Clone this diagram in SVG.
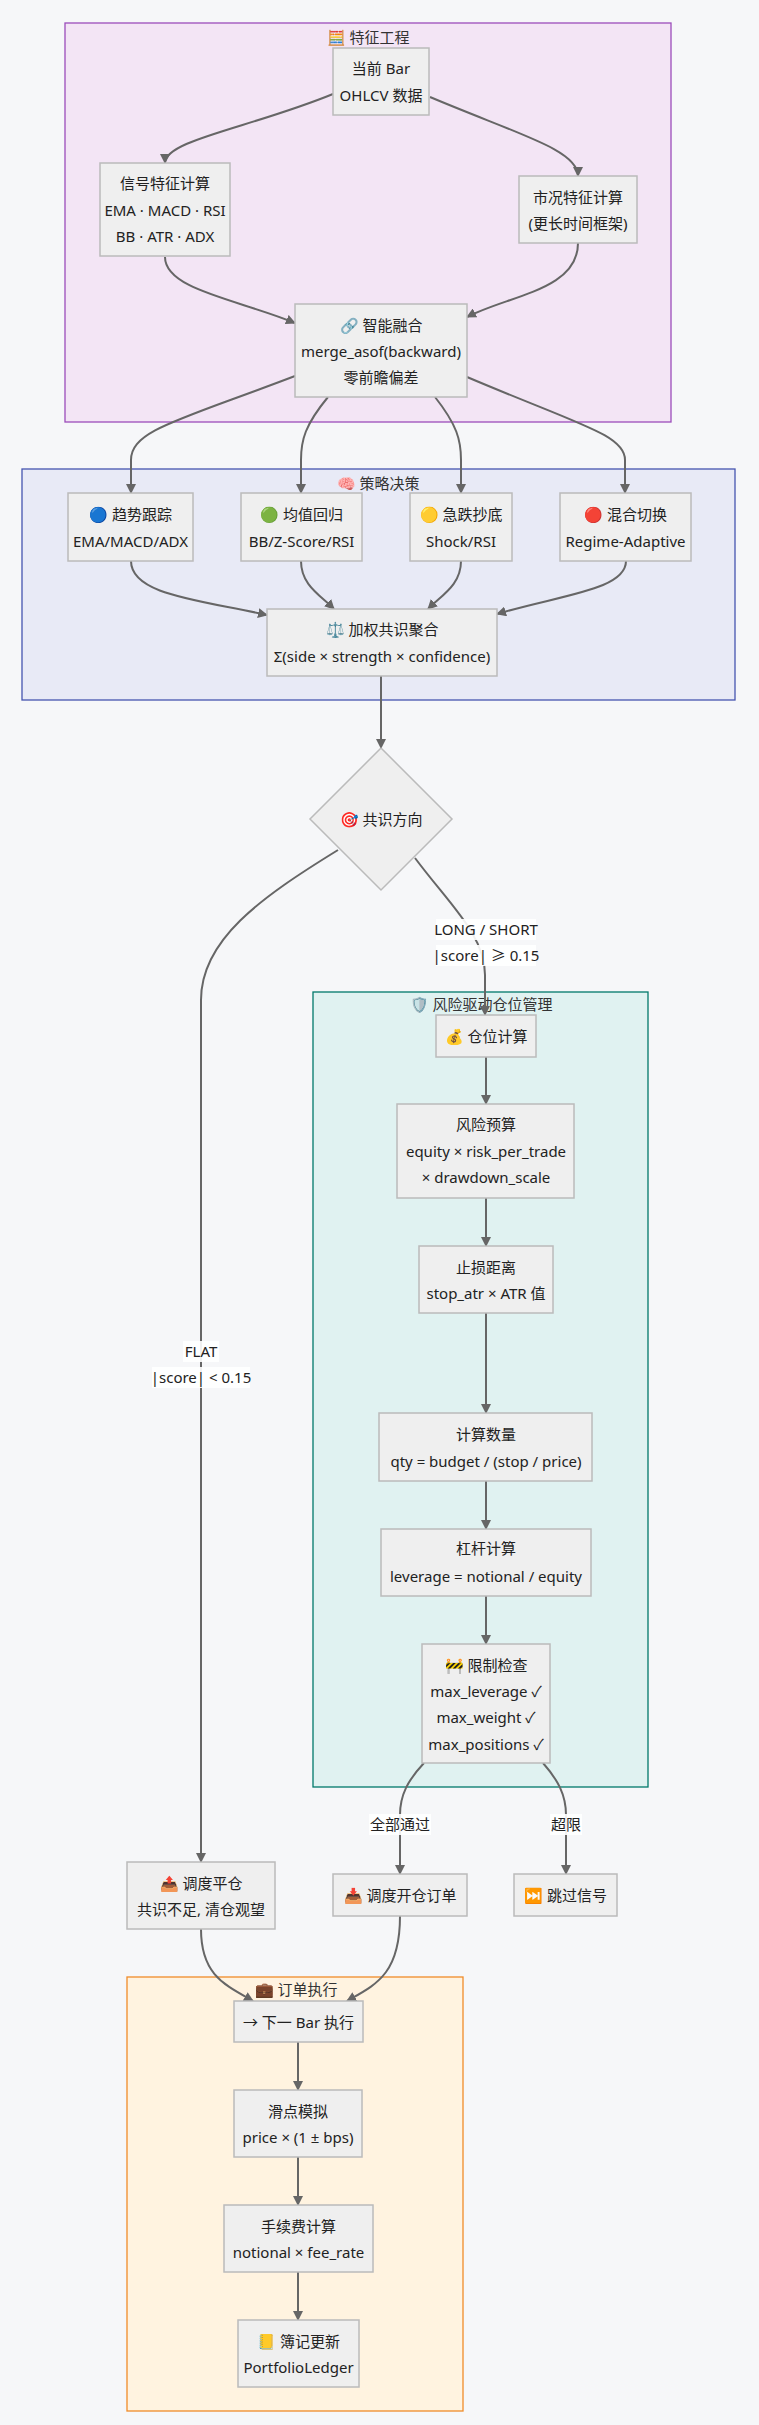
<svg xmlns="http://www.w3.org/2000/svg" width="759" height="2425" viewBox="0 0 759 2425">
<defs>
<marker id="arr" viewBox="0 0 10 10" refX="9" refY="5" markerWidth="10" markerHeight="10" markerUnits="userSpaceOnUse" orient="auto">
<path d="M0,0 L10,5 L0,10 z" fill="#666"/>
</marker>
<style>
text{font-family:"Noto Sans","Noto Sans CJK SC",sans-serif;font-size:15px;fill:#222;text-anchor:middle;dominant-baseline:central}
.node rect,.node polygon{fill:#efefef;stroke:#bbb;stroke-width:1.5}
.cl text{fill:#333}
.edges path{fill:none;stroke:#666;stroke-width:2;marker-end:url(#arr)}
.lbl rect{fill:#fff;opacity:0.9}
</style>
</defs>
<rect width="759" height="2425" fill="#f6f7f9"/>

<g id="cluster-feature" class="cl">
<rect x="65" y="23" width="606" height="399" fill="#f3e5f5" stroke="#9b4dbb" stroke-width="1.3"/>
<text x="368" y="37">🧮 特征工程</text>
</g>
<g id="cluster-strategy" class="cl">
<rect x="22" y="469" width="713" height="231" fill="#e8eaf6" stroke="#4555b0" stroke-width="1.3"/>
<text x="378" y="483">🧠 策略决策</text>
</g>
<g id="cluster-risk" class="cl">
<rect x="313" y="992" width="335" height="795" fill="#e0f2f1" stroke="#00796b" stroke-width="1.3"/>
<text x="481" y="1004">🛡️ 风险驱动仓位管理</text>
</g>
<g id="cluster-exec" class="cl">
<rect x="127" y="1977" width="336" height="434" fill="#fff3e0" stroke="#f08c2a" stroke-width="1.3"/>
<text x="296" y="1989">💼 订单执行</text>
</g>

<g class="edges" id="connectors">
<path d="M333,94 C250,128 165,140 165,163"/>
<path d="M430,97 C520,135 578,150 578,176"/>
<path d="M165,257 C165,290 240,300 295,323"/>
<path d="M578,243 C578,290 510,295 467,317"/>
<path d="M295,376 C180,420 131,430 131,460 L131,493"/>
<path d="M328,397 C305,425 301,440 301,460 L301,493"/>
<path d="M435,397 C457,425 461,440 461,460 L461,493"/>
<path d="M467,377 C580,425 625,435 625,460 L625,493"/>
<path d="M131,561 C131,595 200,600 267,615"/>
<path d="M301,561 C301,585 320,595 334,609"/>
<path d="M461,561 C461,585 442,595 428,609"/>
<path d="M626,561 C626,590 560,595 497,614"/>
<path d="M381,676 L381,748"/>
<path d="M338,850 C260,898 201,940 201,1000 L201,1862"/>
<path d="M415,858 C450,905 485,935 485,975 L485,1015"/>
<path d="M486,1057 L486,1104"/>
<path d="M486,1198 L486,1246"/>
<path d="M486,1313 L486,1413"/>
<path d="M486,1481 L486,1529"/>
<path d="M486,1596 L486,1644"/>
<path d="M424,1763 C408,1780 400,1795 400,1815 L400,1874"/>
<path d="M543,1763 C558,1780 566,1795 566,1815 L566,1874"/>
<path d="M201,1929 C201,1975 225,1985 253,2001"/>
<path d="M400,1916 C400,1975 375,1985 347,2001"/>
<path d="M298,2042 L298,2090"/>
<path d="M298,2157 L298,2205"/>
<path d="M298,2272 L298,2320"/>
</g>

<g id="edge-labels" class="lbl">
<rect x="436" y="919" width="100" height="21"/>
<text x="486" y="929">LONG / SHORT</text>
<rect x="436" y="945" width="100" height="21"/>
<text x="486" y="955">|score| ≥ 0.15</text>
<rect x="183" y="1341" width="36" height="21"/>
<text x="201" y="1351">FLAT</text>
<rect x="152" y="1367" width="98" height="21"/>
<text x="201" y="1377">|score| &lt; 0.15</text>
<rect x="369" y="1814" width="62" height="21"/>
<text x="400" y="1824">全部通过</text>
<rect x="550" y="1814" width="32" height="21"/>
<text x="566" y="1824">超限</text>
</g>

<g id="n-bar" class="node"><rect x="333" y="48" width="96" height="67"/>
<text x="381" y="68">当前 Bar</text><text x="381" y="95">OHLCV 数据</text></g>
<g id="n-signal" class="node"><rect x="100" y="163" width="130" height="93"/>
<text x="165" y="183">信号特征计算</text><text x="165" y="210">EMA · MACD · RSI</text><text x="165" y="236">BB · ATR · ADX</text></g>
<g id="n-regime" class="node"><rect x="519" y="176" width="118" height="67"/>
<text x="578" y="197">市况特征计算</text><text x="578" y="223">(更长时间框架)</text></g>
<g id="n-merge" class="node"><rect x="295" y="304" width="172" height="93"/>
<text x="381" y="325">🔗 智能融合</text><text x="381" y="351">merge_asof(backward)</text><text x="381" y="377">零前瞻偏差</text></g>

<g id="n-trend" class="node"><rect x="68" y="493" width="125" height="68"/>
<text x="130.5" y="514">🔵 趋势跟踪</text><text x="130.5" y="541">EMA/MACD/ADX</text></g>
<g id="n-mean" class="node"><rect x="241" y="493" width="121" height="68"/>
<text x="301.5" y="514">🟢 均值回归</text><text x="301.5" y="541">BB/Z-Score/RSI</text></g>
<g id="n-shock" class="node"><rect x="410" y="493" width="102" height="68"/>
<text x="461" y="514">🟡 急跌抄底</text><text x="461" y="541">Shock/RSI</text></g>
<g id="n-hybrid" class="node"><rect x="560" y="493" width="131" height="68"/>
<text x="625.5" y="514">🔴 混合切换</text><text x="625.5" y="541">Regime-Adaptive</text></g>
<g id="n-agg" class="node"><rect x="267" y="609" width="230" height="67"/>
<text x="382" y="629">⚖️ 加权共识聚合</text><text x="382" y="656">Σ(side × strength × confidence)</text></g>

<g id="n-dir" class="node"><polygon points="381,748 452,819 381,890 310,819"/>
<text x="381" y="819">🎯 共识方向</text></g>

<g id="n-pos" class="node"><rect x="436" y="1015" width="100" height="42"/>
<text x="486" y="1036">💰 仓位计算</text></g>
<g id="n-budget" class="node"><rect x="397" y="1104" width="177" height="94"/>
<text x="486" y="1124">风险预算</text><text x="486" y="1151">equity × risk_per_trade</text><text x="486" y="1177">× drawdown_scale</text></g>
<g id="n-stop" class="node"><rect x="419" y="1246" width="134" height="67"/>
<text x="486" y="1267">止损距离</text><text x="486" y="1293">stop_atr × ATR 值</text></g>
<g id="n-qty" class="node"><rect x="379" y="1413" width="213" height="68"/>
<text x="486" y="1434">计算数量</text><text x="486" y="1461">qty = budget / (stop / price)</text></g>
<g id="n-lev" class="node"><rect x="381" y="1529" width="210" height="67"/>
<text x="486" y="1548">杠杆计算</text><text x="486" y="1576">leverage = notional / equity</text></g>
<g id="n-limit" class="node"><rect x="422" y="1644" width="128" height="119"/>
<text x="486" y="1665">🚧 限制检查</text><text x="486" y="1691">max_leverage ✓</text><text x="486" y="1717">max_weight ✓</text><text x="486" y="1744">max_positions ✓</text></g>

<g id="n-close" class="node"><rect x="127" y="1862" width="148" height="67"/>
<text x="201" y="1883">📤 调度平仓</text><text x="201" y="1909">共识不足, 清仓观望</text></g>
<g id="n-open" class="node"><rect x="333" y="1874" width="134" height="42"/>
<text x="400" y="1895">📥 调度开仓订单</text></g>
<g id="n-skip" class="node"><rect x="514" y="1874" width="103" height="42"/>
<text x="565.5" y="1895">⏭️ 跳过信号</text></g>

<g id="n-next" class="node"><rect x="234" y="2001" width="129" height="41"/>
<text x="298.5" y="2022">→ 下一 Bar 执行</text></g>
<g id="n-slip" class="node"><rect x="234" y="2090" width="128" height="67"/>
<text x="298" y="2111">滑点模拟</text><text x="298" y="2137">price × (1 ± bps)</text></g>
<g id="n-fee" class="node"><rect x="224" y="2205" width="149" height="67"/>
<text x="298.5" y="2226">手续费计算</text><text x="298.5" y="2252">notional × fee_rate</text></g>
<g id="n-ledger" class="node"><rect x="238" y="2320" width="121" height="67"/>
<text x="298.5" y="2341">📒 簿记更新</text><text x="298.5" y="2367">PortfolioLedger</text></g>
</svg>
